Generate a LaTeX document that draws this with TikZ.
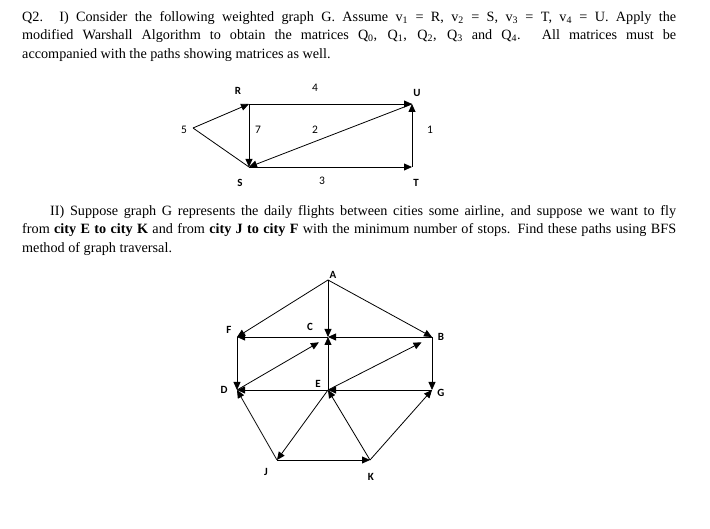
\documentclass[tikz,border=0pt]{standalone}
\usepackage{fontspec}
\setmainfont{Liberation Serif}
\newfontfamily\lab{Carlito}
\usetikzlibrary{arrows.meta,calc}
\begin{document}
\begin{tikzpicture}[x=1pt,y=-1pt,
  edge/.style={-{Triangle[length=8pt,width=7pt]},line width=0.8pt},
  plain/.style={line width=0.8pt},
  lbl/.style={font=\lab\bfseries\fontsize{11}{12}\selectfont,inner sep=0pt},
  num/.style={font=\lab\fontsize{11.5}{12}\selectfont,inner sep=0pt},
  para/.style={anchor=north west,inner sep=0pt,font=\fontsize{14.2}{18.6}\selectfont}]
\useasboundingbox (0,0) rectangle (710,529);
\node[para] (t1) at (22,11) {\parbox{654pt}{Q2. I) Consider the following weighted graph G. Assume v\textsubscript{1} = R, v\textsubscript{2} = S, v\textsubscript{3} = T, v\textsubscript{4} = U. Apply the\linebreak modified Warshall Algorithm to obtain the matrices Q\textsubscript{0}, Q\textsubscript{1}, Q\textsubscript{2}, Q\textsubscript{3} and Q\textsubscript{4}. All matrices must be\linebreak accompanied with the paths showing matrices as well.}};
\node[para] (t2) at (22,205) {\parbox{654pt}{\hspace*{28pt}II) Suppose graph G represents the daily flights between cities some airline, and suppose we want to fly\linebreak from \textbf{city E to city K} and from \textbf{city J to city F} with the minimum number of stops. Find these paths using BFS\linebreak method of graph traversal.}};
% graph 1
\coordinate (v5) at (193,128);
\coordinate (R) at (249,104);
\coordinate (U) at (412,104);
\coordinate (S) at (249,167);
\coordinate (T) at (412,167);
\draw[edge] (v5) -- (R);
\draw[plain] (v5) -- (S);
\draw[edge] (R) -- (U);
\draw[edge] (R) -- (S);
\draw[edge] (U) -- (S);
\draw[edge] (S) -- (T);
\draw[edge] (T) -- (U);
\node[lbl] (lR) at (238,91) {R};
\node[lbl] (lU) at (417,93) {U};
\node[lbl] (lS) at (240,183) {S};
\node[lbl] (lT) at (416,183) {T};
\node[num] (n4) at (315,88) {4};
\node[num] (n5) at (184,130) {5};
\node[num] (n7) at (258,130) {7};
\node[num] (n2) at (315,130) {2};
\node[num] (n1) at (430,130) {1};
\node[num] (n3) at (322,181) {3};
% graph 2
\coordinate (A) at (328,280);
\coordinate (F) at (237,337);
\coordinate (C) at (328,337);
\coordinate (B) at (432,337);
\coordinate (D) at (237,390);
\coordinate (E) at (328,390);
\coordinate (G) at (432,390);
\coordinate (J) at (277,460);
\coordinate (K) at (370,460);
\draw[edge] (A) -- (F);
\draw[edge] (A) -- (C);
\draw[edge] (A) -- (B);
\draw[edge] (C) -- (F);
\draw[edge] (B) -- (C);
\draw[edge] (F) -- (D);
\draw[edge] (D) -- ($(C)!0.1!(D)$);
\draw[edge] (E) -- (C);
\draw[edge] (E) -- ($(B)!0.1!(E)$);
\draw[edge] (E) -- (D);
\draw[edge] (G) -- (E);
\draw[edge] (B) -- (G);
\draw[edge] (E) -- (J);
\draw[edge] (J) -- (D);
\draw[edge] (J) -- (K);
\draw[edge] (K) -- (E);
\draw[edge] (K) -- (G);
\node[lbl] (lA) at (333,275) {A};
\node[lbl] (lF) at (229,330) {F};
\node[lbl] (lC) at (310,327) {C};
\node[lbl] (lB) at (441,337) {B};
\node[lbl] (lD) at (224,390) {D};
\node[lbl] (lE) at (318,384) {E};
\node[lbl] (lG) at (441,393) {G};
\node[lbl] (lJ) at (266,472) {J};
\node[lbl] (lK) at (371,477) {K};
\end{tikzpicture}
\end{document}
